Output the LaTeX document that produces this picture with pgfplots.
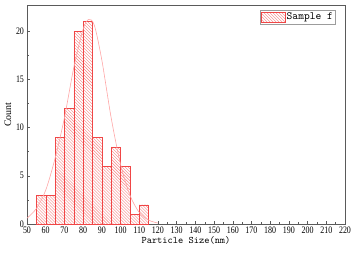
\documentclass[border=0pt]{standalone}
\usepackage{pgfplots}
\pgfplotsset{compat=1.18}
\usetikzlibrary{patterns}
\usepackage{fontspec}
\setmainfont{Liberation Serif}
\newfontfamily\tickfont{Liberation Serif}
\newfontfamily\lmmono{Latin Modern Mono}
\definecolor{barred}{RGB}{240,70,70}
\definecolor{hatch}{RGB}{245,130,130}
\definecolor{fitred}{RGB}{255,165,165}
\definecolor{axgray}{RGB}{90,90,90}
\pgfplotsset{histlegend/.style={legend image code/.code={\draw[##1] (0bp,-5bp) rectangle (24bp,5bp);}}}
\begin{document}
\begin{tikzpicture}
\useasboundingbox (-27bp,-30bp) rectangle (328bp,224bp);
\begin{axis}[
  at={(0,0)}, anchor=south west,
  scale only axis, width=318bp, height=219bp,
  xmin=50, xmax=220, ymin=0, ymax=22.7,
  xtick={50,60,...,220}, ytick={0,5,10,15,20},
  minor x tick num=1, minor y tick num=1,
  xtick pos=left, ytick pos=left,
  tick align=inside,
  major tick length=3bp, minor tick length=1.8bp,
  every tick/.style={axgray},
  axis line style={axgray},
  xticklabel={\scalebox{0.8}[1]{\tickfont\fontsize{10}{11}\selectfont\pgfmathprintnumber[assume math mode=true]{\tick}}},
  yticklabel={\scalebox{0.8}[1]{\tickfont\fontsize{10}{11}\selectfont\pgfmathprintnumber[assume math mode=true]{\tick}}},
  xticklabel style={yshift=1bp},
  yticklabel style={xshift=0.5bp},
  xlabel={\lmmono\fontsize{10}{11}\selectfont Particle Size(nm)},
  ylabel={\fontsize{10}{11}\selectfont Count},
  xlabel style={yshift=3bp},
  ylabel style={yshift=-2bp},
  legend style={at={(rel axis cs:0.97,0.975)}, anchor=north east,
    draw=axgray!60, font=\lmmono\fontsize{11}{11}\selectfont,
    inner sep=1pt, row sep=0pt, nodes={inner sep=1.5pt}},
  legend cell align=left,
]
\addplot[ybar interval, draw=barred, fill=white, pattern=north west lines, pattern color=hatch,
  histlegend]
coordinates {(55,3)(60,3)(65,9)(70,12)(75,20)(80,21)(85,9)(90,6)(95,8)(100,6)(105,1)(110,2)(115,2)};
\addlegendentry{Sample f}
\addplot[fitred, line width=0.6pt, smooth, forget plot] coordinates {
(50,0.6)(55,1.6)(60,3.5)(65,6.8)(70,11.0)(75,16.2)(80,20.2)(83,21.2)(86,20.6)(90,17.0)(95,11.0)(100,6.2)(105,3.0)(110,1.2)(115,0.4)(120,0.1)};
\end{axis}
\end{tikzpicture}
\end{document}
